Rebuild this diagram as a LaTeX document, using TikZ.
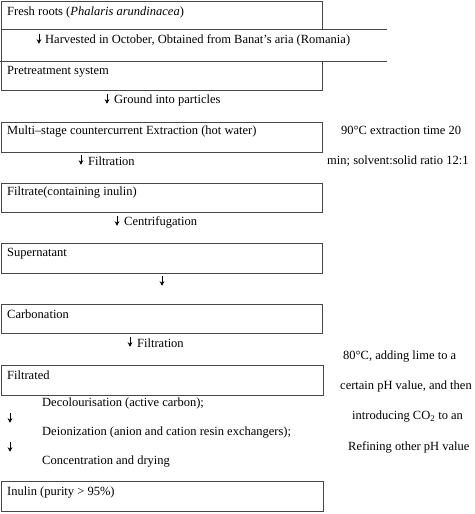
\documentclass[tikz,border=0pt]{standalone}
\usepackage{fontspec}
\setmainfont{Liberation Serif}
\usetikzlibrary{arrows.meta}
\newcommand\darr{\tikz[baseline=0pt]\draw[line width=0.8pt,-{Stealth[length=4.5pt,width=4.8pt]}] (0,9pt) -- (0,-0.5pt);}
\begin{document}
\begin{tikzpicture}[x=1pt,y=-1pt,
  box/.style={draw=black!72, line width=0.9pt},
  txt/.style={anchor=west, inner sep=0pt, font=\fontsize{12.5}{14}\selectfont},
  arr/.style={anchor=center, inner sep=0pt}]
\useasboundingbox (0,0) rectangle (474,514);
% boxes
\draw[box] (387,29) -- (322,29) -- (322,1) -- (1,1) -- (1,29) -- (387,29);
\draw[box] (387,61) -- (0,61);
\draw[box] (1,29) -- (1,61);
\draw[box] (322,61) rectangle (1,90);
\draw[box] (1,122) rectangle (322,152);
\draw[box] (1,183) rectangle (322,212);
\draw[box] (1,243) rectangle (322,273);
\draw[box] (1,304) rectangle (322,333);
\draw[box] (1,365) rectangle (323,395);
\draw[box] (1,481) rectangle (323,511);
% texts in boxes
\node[txt] (t1) at (7,12) {Fresh roots (\textit{Phalaris arundinacea})};
\node[arr] (a2) at (39,39) {\darr};
\node[txt] (t2) at (45,40) {Harvested in October, Obtained from Banat’s aria (Romania)};
\node[txt] (t3) at (7,71.5) {Pretreatment system};
\node[arr] (a4) at (107,99) {\darr};
\node[txt] (t4) at (114,100) {Ground into particles};
\node[txt] (t5) at (7,131.5) {Multi–stage countercurrent Extraction (hot water)};
\node[arr] (a6) at (81,160) {\darr};
\node[txt] (t6) at (88,161) {Filtration};
\node[txt] (t7) at (7,192.5) {Filtrate(containing inulin)};
\node[arr] (a8) at (117,221) {\darr};
\node[txt] (t8) at (124,222) {Centrifugation};
\node[txt] (t9) at (7,253.5) {Supernatant};
\node[arr] (a10) at (162,281) {\darr};
\node[txt] (t11) at (7,314.5) {Carbonation};
\node[arr] (a12) at (130,342) {\darr};
\node[txt] (t12) at (137,343) {Filtration};
\node[txt] (t13) at (7,375.5) {Filtrated};
\node[txt] (t14) at (42,403) {Decolourisation (active carbon);};
\node[arr] (a15) at (10,418) {\darr};
\node[txt] (t16) at (42,433) {Deionization (anion and cation resin exchangers);};
\node[arr] (a17) at (10,447) {\darr};
\node[txt] (t18) at (42,462) {Concentration and drying};
\node[txt] (t19) at (7,492.5) {Inulin (purity > 95\%)};
% side notes
\node[txt] (s1) at (341,130) {90°C extraction time 20};
\node[txt] (s2) at (327,161) {min; solvent:solid ratio 12:1};
\node[txt] (s3) at (343,357) {80°C, adding lime to a};
\node[txt] (s4) at (340,386) {certain pH value, and then};
\node[txt] (s5) at (352,417) {introducing CO\textsubscript{2} to an};
\node[txt] (s6) at (348,447) {Refining other pH value};
\end{tikzpicture}
\end{document}
